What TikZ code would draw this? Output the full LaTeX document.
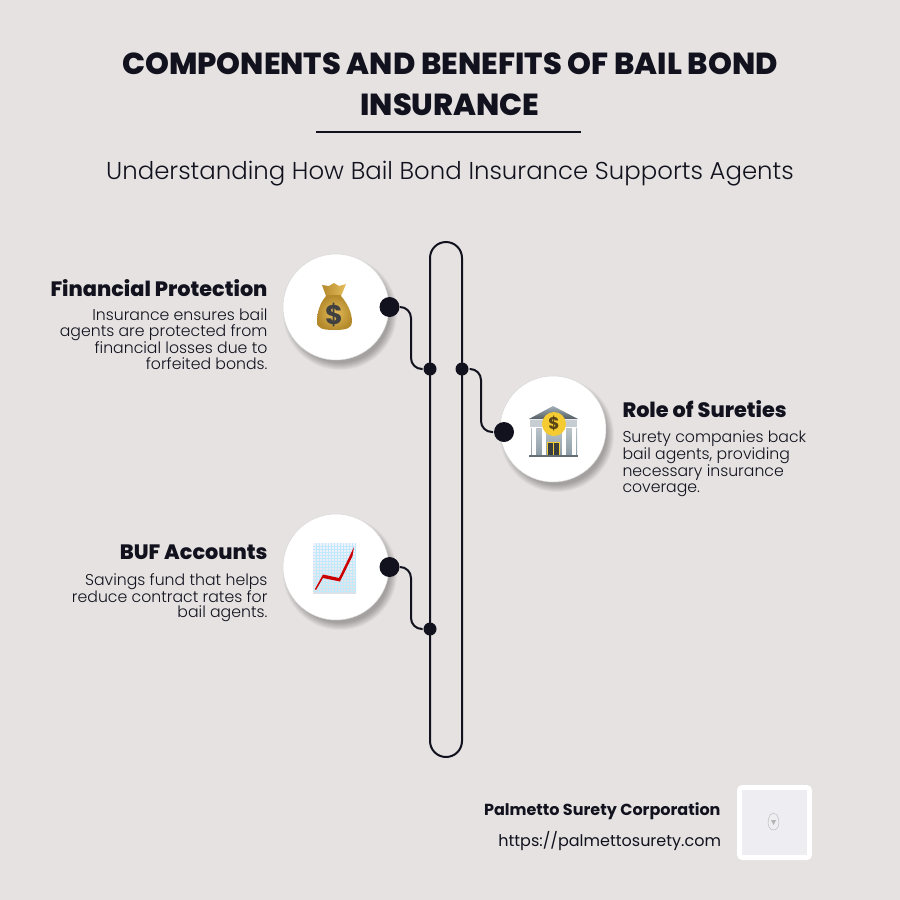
\documentclass[tikz,border=0pt]{standalone}
\usepackage{fontspec}
\setmainfont{Poppins}
\newfontfamily\blackfont{Poppins ExtraBold}
\newfontfamily\lightfont{Poppins Light}
\usetikzlibrary{positioning}
\definecolor{paper}{HTML}{E5E2E1}
\definecolor{ink}{HTML}{12121E}
\definecolor{gold}{HTML}{E6BE5A}
\definecolor{golddark}{HTML}{B48A2C}
\definecolor{coinyellow}{HTML}{F4CB30}
\definecolor{slate}{HTML}{8C9CA6}
\definecolor{logoback}{HTML}{EDEDF2}

\begin{document}
\begin{tikzpicture}[x=1pt,y=-1pt,line width=2pt,
        main node/.style={circle,fill=white,draw=black!15,line width=.5pt,minimum size=106pt,inner sep=0pt},
        big dot/.style={circle,fill=ink,minimum size=20pt,inner sep=0pt},
        small dot/.style={circle,fill=ink,minimum size=13pt,inner sep=0pt},
        link/.style={draw=ink,rounded corners=11pt},
        head/.style={font=\blackfont\fontsize{20.8}{24}\selectfont,text=ink,inner sep=0pt},
        body/.style={font=\lightfont\fontsize{15.7}{15.8}\selectfont,text=ink,inner sep=0pt}]
        \fill[paper] (0,0) rectangle (900,900);
        \useasboundingbox (0,0) rectangle (900,900);

        \node[font=\blackfont\fontsize{30.4}{41}\selectfont,text=ink,align=center,anchor=north] (title) at (450,48)
            {COMPONENTS AND BENEFITS OF BAIL BOND\\INSURANCE};
        \draw[ink] (316,132) -- (581,132);
        \node[font=\lightfont\fontsize{24.4}{28}\selectfont,text=ink] (sub) at (450,174)
            {Understanding How Bail Bond Insurance Supports Agents};

        \foreach \cx/\cy in {336/307,553/429,336/567}
            \foreach \r in {57,56,55,54,53,52,51,50}
                \fill[black,opacity=.04] (\cx+4,\cy+6) circle[radius=\r];

        \node[main node] (1) at (336,307) {};
        \node[main node] (2) at (553,429) {};
        \node[main node] (3) at (336,567) {};

        \draw[ink,rounded corners=16pt] (430,242) rectangle (462,757);

        \node[big dot] (4) at (389.5,307) {};
        \node[big dot] (5) at (504,432) {};
        \node[big dot] (6) at (389.5,567) {};
        \node[small dot] (7) at (430,369) {};
        \node[small dot] (8) at (462,369) {};
        \node[small dot] (9) at (430,629) {};
        \coordinate (k1) at (411,338);
        \coordinate (k2) at (481,400);
        \coordinate (k3) at (411,598);
        \path[link] (4) -| (k1) |- (7);
        \path[link] (8) -| (k2) |- (5);
        \path[link] (6) -| (k3) |- (9);

        \node[head,anchor=base east] (h1) at (268.500,296) {Financial Protection};
        \node[body,anchor=north east,align=right] (b1) [below=11pt of h1.south east,anchor=north east]
            {Insurance ensures bail\\agents are protected from\\financial losses due to\\forfeited bonds.};
        \node[head,anchor=base west] (h2) at (621.500,417) {Role of Sureties};
        \node[body,anchor=north west,align=left] (b2) [below=12pt of h2.south west,anchor=north west]
            {Surety companies back\\bail agents, providing\\necessary insurance\\coverage.};
        \node[head,anchor=base east] (h3) at (268.500,559) {BUF Accounts};
        \node[body,anchor=north east,align=right] (b3) [below=12pt of h3.south east,anchor=north east]
            {Savings fund that helps\\reduce contract rates for\\bail agents.};

        % money bag
        \shade[inner color=gold,outer color=golddark] (326,296) .. controls (320,303) and (317,312) .. (317,322)
            .. controls (317,328) and (322,330) .. (334,330)
            .. controls (347,330) and (352,328) .. (352,322)
            .. controls (352,312) and (347,303) .. (341,296) -- cycle;
        \shade[left color=golddark,right color=gold] (322,285) -- (329,286) -- (334,283) -- (339,286) -- (346,284)
            -- (341,296) -- (326,296) -- cycle;
        \fill[golddark] (326,295) rectangle (341,297);
        \node[font=\fontsize{27}{27}\selectfont\bfseries,text=black!75,inner sep=0pt] (bag) at (334,315) {\$};

        % bank
        \shade[top color=slate!60!white,bottom color=slate] (531,428) rectangle (577,455);
        \fill[slate!70!black] (529,455) rectangle (578,456.500);
        \shade[top color=slate!80!white,bottom color=slate!60!black] (553,406) -- (578,419) -- (529,419) -- cycle;
        \fill[slate!50!white] (530,420) rectangle (577,427);
        \foreach \x in {532,542,562,572}
            \fill[white] (\x,428) rectangle (\x+3.500,455);
        \fill[slate!40!black] (547,442) rectangle (560,455);
        \draw[coinyellow,line width=1pt] (547.500,455) -- (547.500,442.500) -- (559.500,442.500) -- (559.500,455) (553.500,442.500) -- (553.500,455);
        \fill[coinyellow] (554,424) circle[radius=12];
        \node[font=\fontsize{17}{17}\selectfont\bfseries,text=golddark!50!black,inner sep=0pt] (coin) at (554,424) {\$};

        % chart
        \shade[top color=blue!5!white,bottom color=blue!14!black!12!white] (313,543) rectangle (356,593);
        \foreach \x in {316,319,...,355}
            \draw[cyan!25!white,line width=.2pt] (\x,543) -- (\x,593);
        \foreach \y in {546,549,...,592}
            \draw[cyan!25!white,line width=.2pt] (313,\y) -- (356,\y);
        \fill[red!80!black] (315,589) -- (323,574.500) -- (339,578) -- (354,547) -- (352.500,556) -- (340,581.500) -- (323,578) -- (316,590) -- cycle;

        \node[font=\fontsize{16}{18}\selectfont\bfseries,text=ink,anchor=base east,inner sep=0pt] (foot) at (721.500,815) {Palmetto Surety Corporation};
        \node[font=\fontsize{16}{18}\selectfont,text=ink,anchor=base east,inner sep=0pt] (url) at (722,846) {https://palmettosurety.com};

        \fill[white,rounded corners=5pt] (737,785) rectangle (812,860);
        \fill[logoback] (742,790) rectangle (807,855);
        \draw[black!25,line width=.5pt] (773.500,813) .. controls (768,813) and (767,824) .. (769,827)
            .. controls (771,831) and (776,831) .. (778,827)
            .. controls (780,824) and (779,813) .. (773.500,813) -- cycle;
        \fill[black!30] (771,820) -- (776,820) -- (773.500,825) -- cycle;
\end{tikzpicture}
\end{document}
